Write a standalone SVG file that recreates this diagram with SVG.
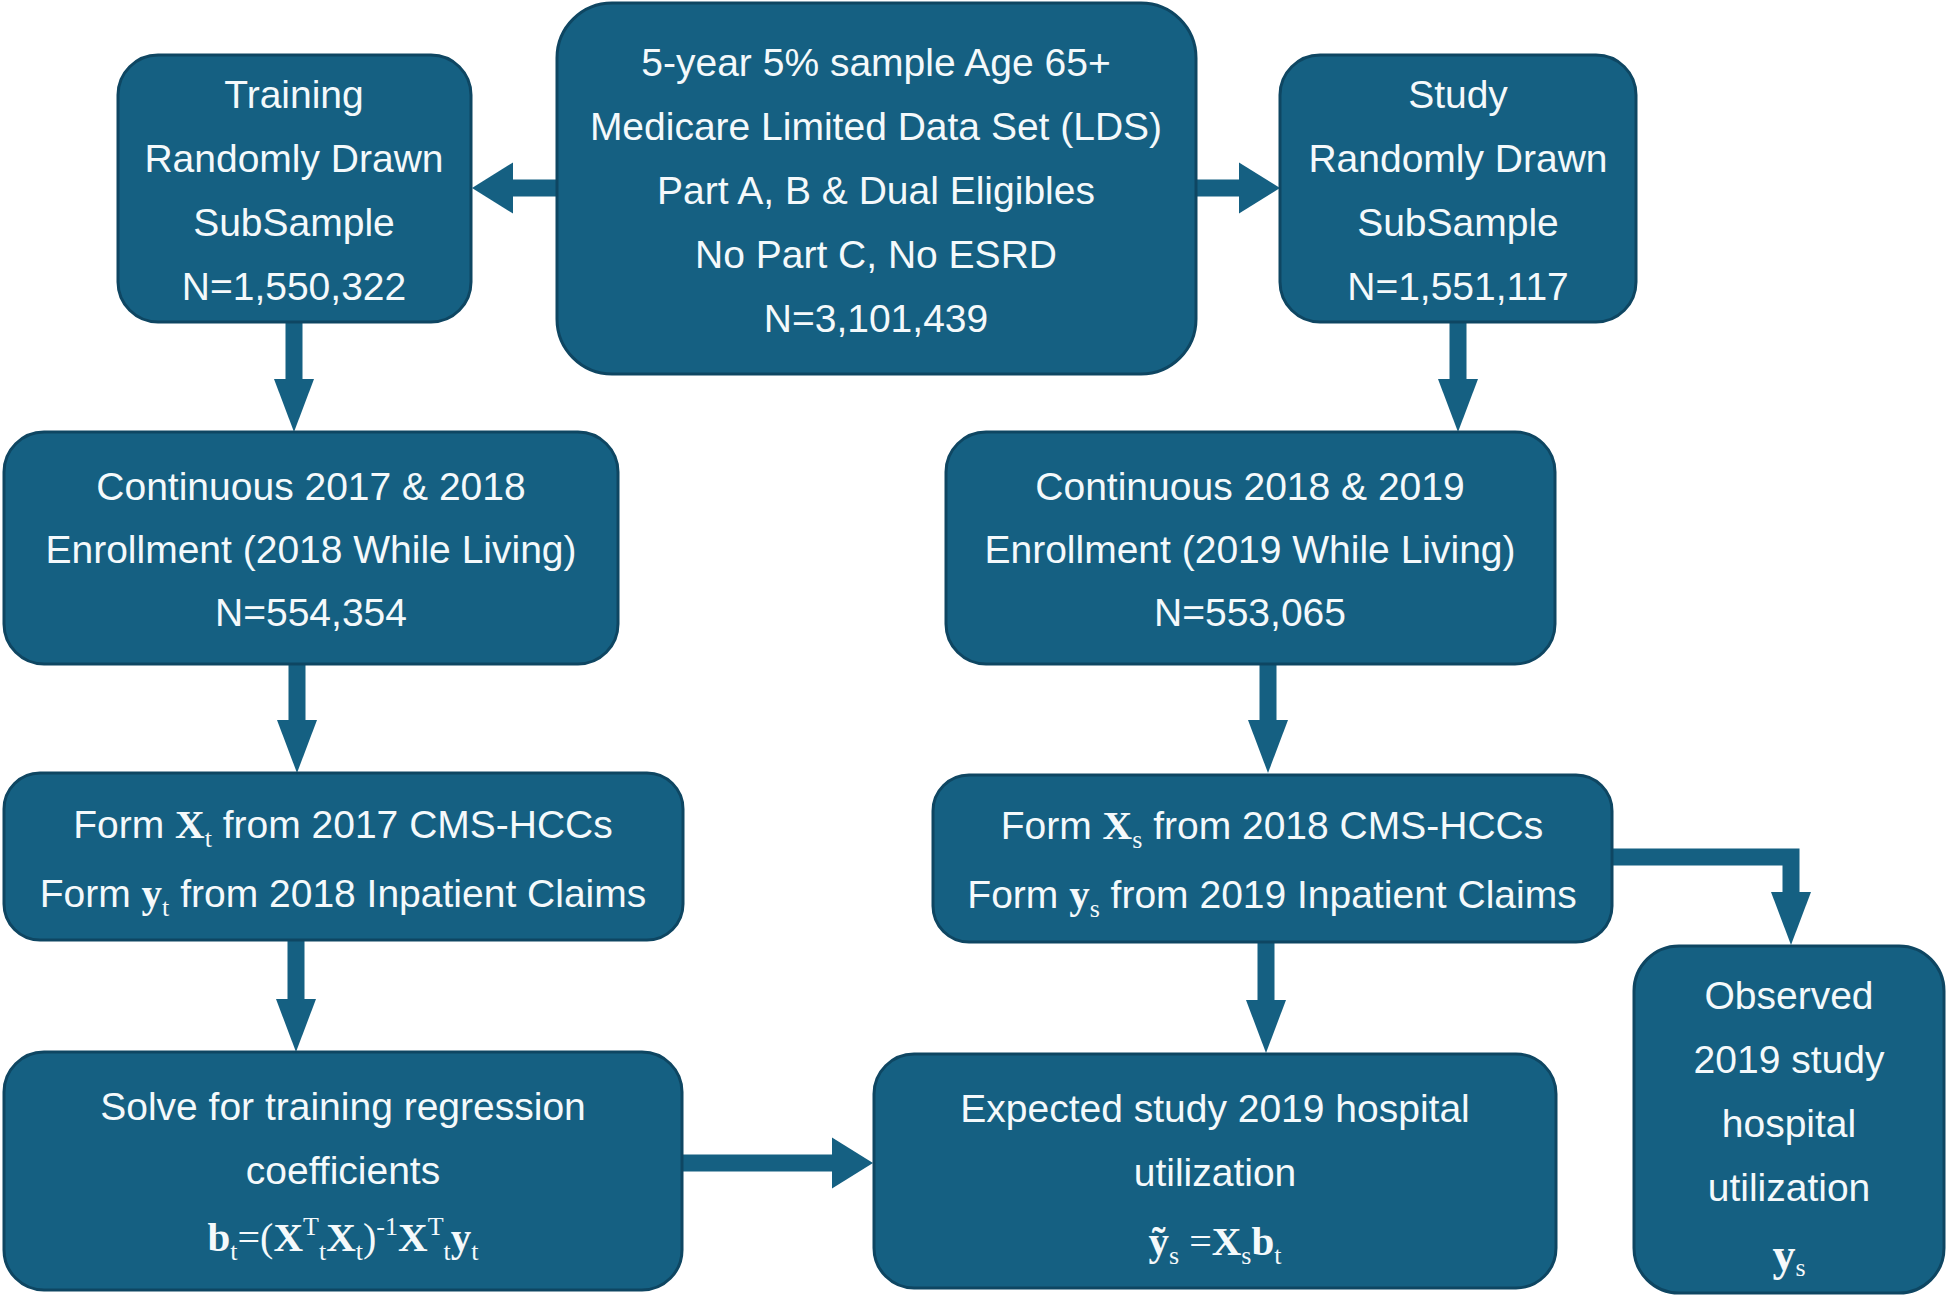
<svg xmlns="http://www.w3.org/2000/svg" width="1948" height="1314" viewBox="0 0 1948 1314">
<style>
.box{fill:#156082;stroke:#0E4662;stroke-width:3}
.t{font-family:"Liberation Sans",Arial,sans-serif;font-size:39px;fill:#F4F9FB;text-anchor:middle}
.m{font-family:"Liberation Serif","Times New Roman",serif;font-weight:bold;font-size:41px}
.mr{font-family:"Liberation Serif","Times New Roman",serif;font-weight:normal;font-size:40px}
.ms{font-family:"Liberation Serif","Times New Roman",serif;font-weight:normal;font-size:26px}
.c{fill:none;stroke:#156082;stroke-width:17}
</style>
<defs>
<marker id="hH" markerUnits="userSpaceOnUse" markerWidth="44" markerHeight="56" refX="0" refY="26" orient="auto" viewBox="-2 0 44 52" overflow="visible">
<path d="M-1,0.5 L40,26 L-1,51.5 Z" fill="#156082"/>
</marker>
<marker id="hV" markerUnits="userSpaceOnUse" markerWidth="56" markerHeight="42" refX="0" refY="20" orient="auto" viewBox="-2 0 56 40" overflow="visible">
<path d="M-1,0 L52,20 L-1,40 Z" fill="#156082"/>
</marker>
</defs>
<rect width="1948" height="1314" fill="#FFFFFF"/>
<g id="connectors">
<line class="c" x1="557" y1="188" x2="512" y2="188" marker-end="url(#hH)"/>
<line class="c" x1="1196" y1="188" x2="1240" y2="188" marker-end="url(#hH)"/>
<line class="c" x1="294" y1="322" x2="294" y2="380" marker-end="url(#hV)"/>
<line class="c" x1="1458" y1="322" x2="1458" y2="380" marker-end="url(#hV)"/>
<line class="c" x1="297" y1="664" x2="297" y2="721" marker-end="url(#hV)"/>
<line class="c" x1="1268" y1="664" x2="1268" y2="721" marker-end="url(#hV)"/>
<line class="c" x1="296" y1="940" x2="296" y2="1000" marker-end="url(#hV)"/>
<line class="c" x1="1266" y1="940" x2="1266" y2="1001" marker-end="url(#hV)"/>
<line class="c" x1="682" y1="1163" x2="833" y2="1163" marker-end="url(#hH)"/>
<path class="c" d="M1612,857 H1791 V893" marker-end="url(#hV)"/>
</g>
<g id="source">
<rect class="box" x="557" y="3" width="639" height="371" rx="55"/>
<text class="t" x="876" y="76">5-year 5% sample Age 65+</text>
<text class="t" x="876" y="140">Medicare Limited Data Set (LDS)</text>
<text class="t" x="876" y="204">Part A, B &amp; Dual Eligibles</text>
<text class="t" x="876" y="268">No Part C, No ESRD</text>
<text class="t" x="876" y="332">N=3,101,439</text>
</g>
<g id="training">
<rect class="box" x="118" y="55" width="353" height="267" rx="40"/>
<text class="t" x="294" y="108">Training</text>
<text class="t" x="294" y="172">Randomly Drawn</text>
<text class="t" x="294" y="236">SubSample</text>
<text class="t" x="294" y="300">N=1,550,322</text>
</g>
<g id="study">
<rect class="box" x="1280" y="55" width="356" height="267" rx="40"/>
<text class="t" x="1458" y="108">Study</text>
<text class="t" x="1458" y="172">Randomly Drawn</text>
<text class="t" x="1458" y="236">SubSample</text>
<text class="t" x="1458" y="300">N=1,551,117</text>
</g>
<g id="cont2017">
<rect class="box" x="4" y="432" width="614" height="232" rx="40"/>
<text class="t" x="311" y="500">Continuous 2017 &amp; 2018</text>
<text class="t" x="311" y="563">Enrollment (2018 While Living)</text>
<text class="t" x="311" y="626">N=554,354</text>
</g>
<g id="cont2018">
<rect class="box" x="946" y="432" width="609" height="232" rx="40"/>
<text class="t" x="1250" y="500">Continuous 2018 &amp; 2019</text>
<text class="t" x="1250" y="563">Enrollment (2019 While Living)</text>
<text class="t" x="1250" y="626">N=553,065</text>
</g>
<g id="formXt">
<rect class="box" x="4" y="773" width="679" height="167" rx="36"/>
<text class="t" x="343" y="838">Form <tspan class="m">X</tspan><tspan class="ms" dy="9">t</tspan><tspan dy="-9"> from 2017 CMS-HCCs</tspan></text>
<text class="t" x="343" y="907">Form <tspan class="m">y</tspan><tspan class="ms" dy="9">t</tspan><tspan dy="-9"> from 2018 Inpatient Claims</tspan></text>
</g>
<g id="formXs">
<rect class="box" x="933" y="775" width="679" height="167" rx="36"/>
<text class="t" x="1272" y="839">Form <tspan class="m">X</tspan><tspan class="ms" dy="9">s</tspan><tspan dy="-9"> from 2018 CMS-HCCs</tspan></text>
<text class="t" x="1272" y="908">Form <tspan class="m">y</tspan><tspan class="ms" dy="9">s</tspan><tspan dy="-9"> from 2019 Inpatient Claims</tspan></text>
</g>
<g id="solve">
<rect class="box" x="4" y="1052" width="678" height="238" rx="40"/>
<text class="t" x="343" y="1120">Solve for training regression</text>
<text class="t" x="343" y="1184">coefficients</text>
<text class="t" x="343" y="1251"><tspan class="m">b</tspan><tspan class="ms" dy="9">t</tspan><tspan class="mr" dy="-9">=(</tspan><tspan class="m">X</tspan><tspan class="ms" dy="-16">T</tspan><tspan class="ms" dy="25">t</tspan><tspan class="m" dy="-9">X</tspan><tspan class="ms" dy="9">t</tspan><tspan class="mr" dy="-9">)</tspan><tspan class="ms" dy="-16">-1</tspan><tspan class="m" dy="16">X</tspan><tspan class="ms" dy="-16">T</tspan><tspan class="ms" dy="25">t</tspan><tspan class="m" dy="-9">y</tspan><tspan class="ms" dy="9">t</tspan></text>
</g>
<g id="expected">
<rect class="box" x="874" y="1054" width="682" height="234" rx="40"/>
<text class="t" x="1215" y="1122">Expected study 2019 hospital</text>
<text class="t" x="1215" y="1186">utilization</text>
<text class="t" x="1215" y="1255"><tspan class="m">ỹ</tspan><tspan class="ms" dy="9">s</tspan><tspan class="mr" dy="-9"> =</tspan><tspan class="m">X</tspan><tspan class="ms" dy="9">s</tspan><tspan class="m" dy="-9">b</tspan><tspan class="ms" dy="9">t</tspan></text>
</g>
<g id="observed">
<rect class="box" x="1634" y="946" width="310" height="347" rx="45"/>
<text class="t" x="1789" y="1009">Observed</text>
<text class="t" x="1789" y="1073">2019 study</text>
<text class="t" x="1789" y="1137">hospital</text>
<text class="t" x="1789" y="1201">utilization</text>
<text class="t" x="1789" y="1270"><tspan class="m" style="font-size:46px">y</tspan><tspan class="ms" dy="6">s</tspan></text>
</g>
</svg>
